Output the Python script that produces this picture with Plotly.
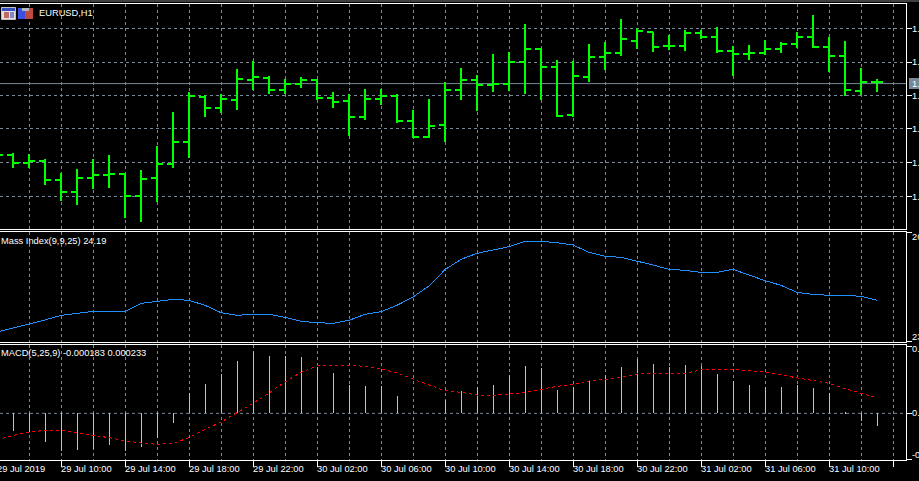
import pandas as pd
import plotly.graph_objects as go

bar_times = pd.date_range("2019-07-29 06:00", periods=56, freq="h")

eur_open = [1.11320,1.11313,1.11293,1.11298,1.11250,1.11220,1.11255,1.11263,1.11265,1.11210,1.11255,1.11290,1.11345,1.11458,1.11430,1.11450,1.11500,1.11505,1.11475,1.11490,1.11500,1.11455,1.11448,1.11408,1.11453,1.11460,1.11398,1.11358,1.11388,1.11475,1.11500,1.11488,1.11490,1.11545,1.11578,1.11533,1.11413,1.11508,1.11558,1.11568,1.11598,1.11620,1.11585,1.11585,1.11618,1.11608,1.11573,1.11565,1.11568,1.11578,1.11590,1.11608,1.11583,1.11560,1.11473,1.11495]
eur_high = [1.11325,1.11318,1.11315,1.11303,1.11268,1.11278,1.11303,1.11313,1.11268,1.11275,1.11335,1.11420,1.11470,1.11463,1.11465,1.11528,1.11548,1.11510,1.11503,1.11508,1.11503,1.11470,1.11465,1.11478,1.11478,1.11465,1.11425,1.11453,1.11495,1.11530,1.11513,1.11565,1.11570,1.11640,1.11580,1.11550,1.11548,1.11590,1.11595,1.11653,1.11630,1.11620,1.11613,1.11625,1.11625,1.11633,1.11585,1.11588,1.11600,1.11595,1.11620,1.11663,1.11608,1.11598,1.11530,1.11503]
eur_low = [1.11300,1.11280,1.11280,1.11238,1.11198,1.11188,1.11228,1.11230,1.11155,1.11145,1.11195,1.11280,1.11305,1.11408,1.11418,1.11425,1.11475,1.11465,1.11465,1.11480,1.11450,1.11430,1.11360,1.11400,1.11438,1.11393,1.11355,1.11355,1.11345,1.11450,1.11423,1.11470,1.11473,1.11465,1.11450,1.11408,1.11408,1.11495,1.11525,1.11560,1.11578,1.11570,1.11575,1.11573,1.11603,1.11568,1.11510,1.11550,1.11563,1.11568,1.11580,1.11580,1.11520,1.11460,1.11463,1.11470]
eur_close = [1.11313,1.11293,1.11298,1.11250,1.11220,1.11255,1.11263,1.11265,1.11210,1.11253,1.11290,1.11345,1.11460,1.11430,1.11453,1.11503,1.11508,1.11475,1.11490,1.11500,1.11455,1.11445,1.11408,1.11453,1.11460,1.11398,1.11358,1.11385,1.11475,1.11500,1.11488,1.11490,1.11545,1.11578,1.11533,1.11410,1.11510,1.11558,1.11568,1.11603,1.11623,1.11583,1.11585,1.11618,1.11608,1.11573,1.11565,1.11568,1.11578,1.11590,1.11608,1.11583,1.11560,1.11475,1.11495,1.11495]
bid_price = 1.11491

mass_index = [23.24,23.35,23.48,23.60,23.74,23.80,23.86,23.86,23.86,24.10,24.15,24.22,24.19,24.04,23.82,23.74,23.77,23.77,23.68,23.56,23.52,23.50,23.59,23.77,23.85,24.04,24.29,24.62,25.11,25.42,25.60,25.71,25.80,25.96,25.96,25.92,25.85,25.63,25.51,25.48,25.37,25.25,25.12,25.09,25.03,25.03,25.12,24.95,24.78,24.64,24.43,24.37,24.34,24.34,24.31,24.19]

macd_hist_e6 = [-250,-265,-275,-425,-565,-545,-535,-475,-565,-505,-370,-145,300,440,590,785,935,860,860,845,695,605,425,410,410,260,0,0,200,335,395,425,575,710,680,350,395,500,575,695,815,740,695,725,710,590,485,425,395,395,425,380,305,20,-115,-183]
macd_signal_e6 = [-400,-330,-280,-255,-255,-290,-320,-365,-410,-445,-465,-450,-365,-240,-130,10,150,305,470,615,710,720,720,705,665,605,510,425,340,315,275,270,290,315,360,405,435,485,510,540,590,600,600,600,650,660,660,640,620,575,535,500,450,370,300,233]

price_ticks = [1.11629, 1.11545, 1.11461, 1.11378, 1.11294, 1.11209]
price_tick_rows = [28.5, 62, 95.5, 129, 162.5, 196.5]
x_labels = ["29 Jul 2019","29 Jul 10:00","29 Jul 14:00","29 Jul 18:00","29 Jul 22:00","30 Jul 02:00","30 Jul 06:00","30 Jul 10:00","30 Jul 14:00","30 Jul 18:00","30 Jul 22:00","31 Jul 02:00","31 Jul 06:00","31 Jul 10:00"]
x_label_px = [-3 + 64 * i for i in range(14)]

W, H = 919, 481
ML, MR, MT, MB = 0, 13, 3, 21
PW, PH = W - ML - MR, H - MT - MB
GRID = "#778899"
FONT = "Liberation Sans"
FS = 9.3

def px(x):
    return (x - ML) / PW

def py(y):
    return 1 - (y - MT) / PH

x_range = ["2019-07-29 06:11:15", "2019-07-31 14:48:45"]

fig = go.Figure()
fig.add_trace(go.Ohlc(x=bar_times, open=eur_open, high=eur_high, low=eur_low, close=eur_close,
                      increasing=dict(line=dict(color="#00FF00", width=2)),
                      decreasing=dict(line=dict(color="#00FF00", width=2)),
                      tickwidth=0.375, xaxis="x", yaxis="y", hoverinfo="skip"))
fig.add_trace(go.Scatter(x=bar_times, y=mass_index, mode="lines",
                         line=dict(color="#1E90FF", width=1), xaxis="x2", yaxis="y2", hoverinfo="skip"))
# 16 px per hour: a bar just under 1 px wide, starting just right of the hour, fills one pixel column
fig.add_trace(go.Bar(x=bar_times, y=[v * 1e-6 for v in macd_hist_e6], width=202500, offset=11250,
                     marker=dict(color="#C0C0C0", line=dict(width=0)), xaxis="x3", yaxis="y3", hoverinfo="skip"))
fig.add_trace(go.Scatter(x=bar_times, y=[v * 1e-6 for v in macd_signal_e6], mode="lines",
                         line=dict(color="#FF0000", width=1, dash="3px,3px"), xaxis="x3", yaxis="y3", hoverinfo="skip"))

def xaxis(anchor, ticks):
    return dict(type="date", range=x_range, anchor=anchor, domain=[0, 1],
                dtick=4 * 3600000, tick0="2019-07-29 02:00",
                showgrid=True, gridcolor=GRID, griddash="3px,3px", gridwidth=1,
                minor=dict(dtick=2 * 3600000, tick0="2019-07-29 00:00", showgrid=True,
                           gridcolor=GRID, griddash="3px,3px", gridwidth=1, ticks=""),
                showticklabels=False, ticks=ticks, ticklen=6, tickcolor="white", tickwidth=1,
                showline=True, linecolor="white", linewidth=1, mirror=True, zeroline=False,
                rangeslider=dict(visible=False))

def yaxis(dom, rng, tickvals, grid=True, anchor="x"):
    return dict(domain=[py(dom[1]), py(dom[0])], range=rng, side="right", anchor=anchor,
                tickmode="array", tickvals=tickvals, ticks="outside", ticklen=5,
                tickcolor="white", tickwidth=1, showticklabels=False,
                showgrid=grid, gridcolor=GRID, griddash="3px,3px", gridwidth=1,
                showline=True, linecolor="white", linewidth=1, mirror=True, zeroline=False)

shapes = [
    dict(type="rect", xref="paper", yref="paper", x0=px(0), x1=px(W), y0=py(0), y1=py(2),
         fillcolor="#404040", line=dict(width=0), layer="above"),
    dict(type="line", xref="paper", yref="y", x0=0, x1=1, y0=bid_price, y1=bid_price,
         line=dict(color=GRID, width=1), layer="below"),
    dict(type="rect", xref="paper", yref="paper", x0=px(909), x1=px(W), y0=py(89), y1=py(78),
         fillcolor=GRID, line=dict(width=0), layer="above"),
    dict(type="rect", xref="paper", yref="paper", x0=px(1.5), x1=px(15.5), y0=py(19.5), y1=py(7.5),
         fillcolor="#E8E0E0", line=dict(color="#C0C0C0", width=1), layer="above"),
    dict(type="rect", xref="paper", yref="paper", x0=px(2), x1=px(15), y0=py(11), y1=py(8),
         fillcolor="#3A50C0", line=dict(width=0), layer="above"),
    dict(type="rect", xref="paper", yref="paper", x0=px(4), x1=px(9), y0=py(18), y1=py(12),
         fillcolor="#C06A60", line=dict(width=0), layer="above"),
    dict(type="rect", xref="paper", yref="paper", x0=px(10), x1=px(14), y0=py(18), y1=py(12),
         fillcolor="#8088C8", line=dict(width=0), layer="above"),
    dict(type="rect", xref="paper", yref="paper", x0=px(18), x1=px(25), y0=py(19), y1=py(8),
         fillcolor="#3A50E0", line=dict(width=0), layer="above"),
    dict(type="rect", xref="paper", yref="paper", x0=px(25), x1=px(33), y0=py(19), y1=py(8),
         fillcolor="#C04A40", line=dict(width=0), layer="above"),
    dict(type="rect", xref="paper", yref="paper", x0=px(22), x1=px(29), y0=py(11), y1=py(8),
         fillcolor="#B0B8C0", line=dict(width=0), layer="above"),
]

def text(x, y, s, color="white"):
    return dict(xref="paper", yref="paper", x=px(x), y=py(y), text=s, showarrow=False,
                xanchor="left", yanchor="middle", borderpad=0, borderwidth=0,
                font=dict(family=FONT, size=FS, color=color))

annotations = [
    text(38.5, 13.5, "EURUSD,H1"),
    text(1, 240.7, "Mass Index(9,9,25) 24.19"),
    text(1, 353.3, "MACD(5,25,9) -0.000183 0.000233"),
    text(912, 83.5, "1."),
    text(912, 236.7, "26"),
    text(912, 336.7, "23"),
    text(912, 349, "0."),
    text(912, 413, "0."),
    text(912, 455, "-0"),
]
for row in price_tick_rows:
    annotations.append(text(912, row, "1."))
for x, s in zip(x_label_px, x_labels):
    annotations.append(text(x, 469.5, s))

fig.update_layout(
    width=W, height=H, margin=dict(l=ML, r=MR, t=MT, b=MB, pad=0, autoexpand=False),
    paper_bgcolor="black", plot_bgcolor="black", showlegend=False, hovermode=False,
    bargap=0, dragmode=False,
    xaxis=xaxis("y", ""), xaxis2=xaxis("y2", ""), xaxis3=xaxis("y3", "outside"),
    yaxis=yaxis((4, 229), [1.111275, 1.1169], price_ticks, anchor="x"),
    yaxis2=yaxis((232, 342), [22.94, 26.24], [26.23, 22.96], grid=False, anchor="x2"),
    yaxis3=yaxis((345, 460), [-0.0006995, 0.00102495], [0.00101, 0, -0.00069], grid=False, anchor="x3"),
    shapes=shapes, annotations=annotations,
)
fig.add_shape(type="line", xref="x3", yref="y3", x0=x_range[0], x1=x_range[1], y0=0, y1=0,
              line=dict(color=GRID, width=1, dash="3px,3px"), layer="below")

crisp = ("document.body.style.margin='0';document.body.style.overflow='hidden';"
         "function crisp(){document.querySelectorAll('.scatterlayer path.js-line,.ohlclayer path,.barlayer path')"
         ".forEach(function(p){p.style.shapeRendering='crispEdges';});}"
         "crisp();setTimeout(crisp,50);")
fig.write_html("out.html", config=dict(displayModeBar=False), post_script=crisp)
